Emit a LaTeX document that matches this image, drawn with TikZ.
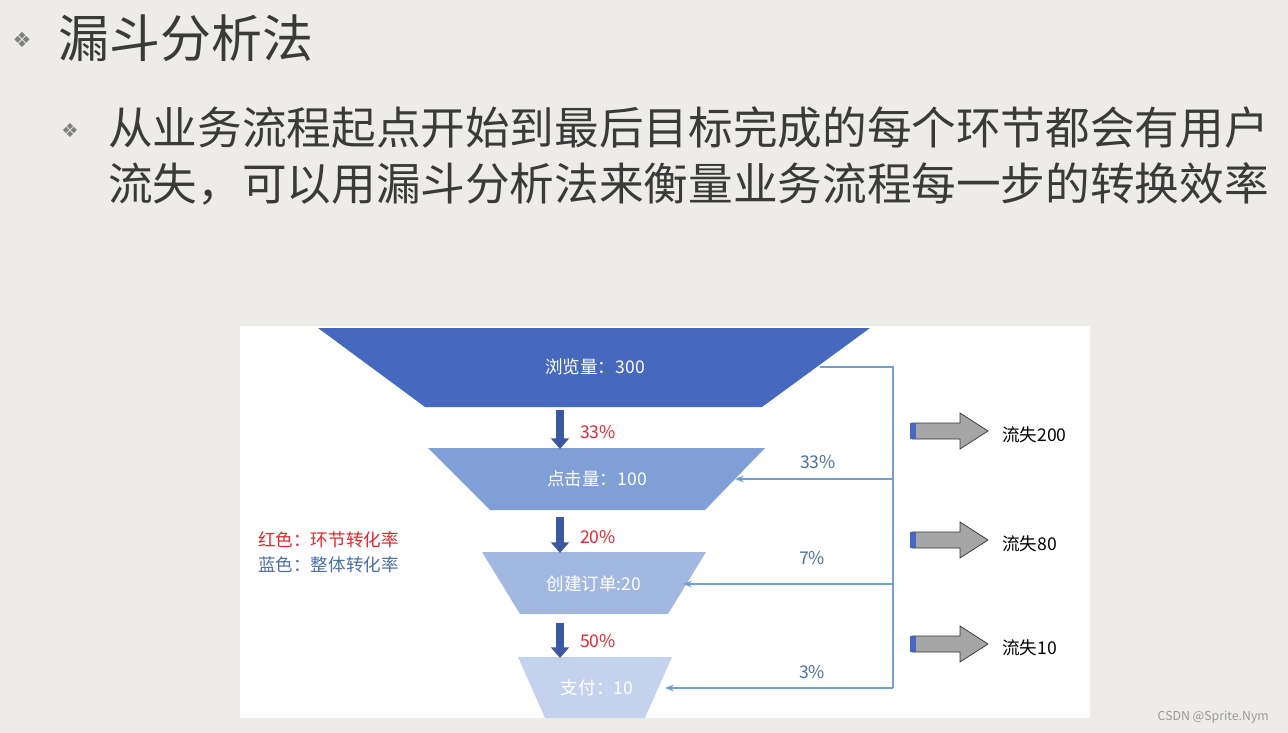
\documentclass[tikz,border=0pt]{standalone}
\usepackage{fontspec}
\setmainfont{Noto Sans CJK SC}
\newfontfamily\cjk{Noto Sans CJK SC}
\newfontfamily\dv{DejaVu Sans}
\usetikzlibrary{arrows.meta}
\definecolor{bg}{HTML}{EEECE8}
\definecolor{f1}{HTML}{4668BE}
\definecolor{f2}{HTML}{7F9FD6}
\definecolor{f3}{HTML}{A3B8E0}
\definecolor{f4}{HTML}{C5D2EE}
\definecolor{ln}{HTML}{6FA0D0}
\definecolor{lbl}{HTML}{4A6FA5}
\definecolor{rd}{HTML}{E0282E}
\definecolor{tx}{HTML}{3A3A3A}
\tikzset{
 x=0.02cm,y=-0.02cm,
 ftext/.style={text=white,font=\fontsize{10}{12}\selectfont},
 pct/.style={text=rd,font=\fontsize{10}{12}\selectfont,anchor=west},
 rpct/.style={text=lbl,font=\fontsize{10}{12}\selectfont},
 loss/.style={font=\fontsize{10}{12}\selectfont,anchor=west},
 down/.style={-{Triangle[width=10pt,length=6pt]},line width=5pt,draw=f1!85!black},
 back/.style={draw=ln,line width=0.7pt,-{Stealth[length=5pt]}},
 garrow/.style={fill=gray!70,draw=gray!40!black,line width=0.4pt},
 body/.style={anchor=west,text=tx,font=\fontsize{25.4}{30}\selectfont,inner sep=0pt},
}
\begin{document}
\begin{tikzpicture}
\fill[bg] (0,0) rectangle (1288,733);
\useasboundingbox (0,0) rectangle (1288,733);
% title
\node[text=gray] (b1) at (22,40) {\dv\fontsize{12}{14}\selectfont ❖};
\node[anchor=west,text=tx,font=\fontsize{29}{34}\selectfont,inner sep=0pt] (t1) at (58,38) {漏斗分析法};
\node[text=gray] (b2) at (70,130) {\dv\fontsize{11}{13}\selectfont ❖};
\node[body] (t2) at (108,128) {从业务流程起点开始到最后目标完成的每个环节都会有用户};
\node[body] (t3) at (108,184) {流失，可以用漏斗分析法来衡量业务流程每一步的转换效率};
% panel
\fill[white] (240,326) rectangle (1090,718);
% funnels
\fill[f1] (318,328) -- (870,328) -- (762,407) -- (425,407) -- cycle;
\fill[f2] (428,448) -- (765,448) -- (705,510) -- (490,510) -- cycle;
\fill[f3] (482,552) -- (706,552) -- (668,614) -- (520,614) -- cycle;
\fill[f4] (518,657) -- (672,657) -- (645,718) -- (545,718) -- cycle;
\node[ftext] (n1) at (595,367) {浏览量：300};
\node[ftext] (n2) at (597,479) {点击量：100};
\node[ftext] (n3) at (594,584) {创建订单:20};
\node[ftext] (n4) at (597,688) {支付：10};
% down arrows
\coordinate (d1a) at (560,410); \coordinate (d1b) at (560,449);
\coordinate (d2a) at (560,517); \coordinate (d2b) at (560,553);
\coordinate (d3a) at (560,623); \coordinate (d3b) at (560,658);
\draw[down] (d1a) -- (d1b); \draw[down] (d2a) -- (d2b); \draw[down] (d3a) -- (d3b);
\node[pct] (p1) at (574,432) {33\%};
\node[pct] (p2) at (574,537) {20\%};
\node[pct] (p3) at (574,641) {50\%};
% right connectors
\coordinate (r0) at (820,367); \coordinate (rc) at (893,367);
\coordinate (r1) at (893,479); \coordinate (r2) at (893,584); \coordinate (r3) at (893,688);
\coordinate (e1) at (735,479); \coordinate (e2) at (683,584); \coordinate (e3) at (665,688);
\draw[draw=ln,line width=0.7pt] (r0) -- (rc) -- (r3);
\draw[back] (r1) -- (e1); \draw[back] (r2) -- (e2); \draw[back] (r3) -- (e3);
\node[rpct] (q1) at (818,462) {33\%};
\node[rpct] (q2) at (812,558) {7\%};
\node[rpct] (q3) at (812,672) {3\%};
% loss arrows
\foreach \y/\t [count=\i] in {431/流失200,540/流失80,644/流失10}{
  \draw[garrow] (912,\y-8) -- (960,\y-8) -- (960,\y-18) -- (988,\y) -- (960,\y+18) -- (960,\y+8) -- (912,\y+8) -- cycle;
  \fill[f1] (910,\y-8) rectangle (916,\y+8);
  \node[loss] (l\i) at (996,\y+4) {\t};
}
% legend
\node[anchor=west,text=rd,font=\fontsize{10}{12}\selectfont] (g1) at (252,540) {红色：环节转化率};
\node[anchor=west,text=lbl,font=\fontsize{10}{12}\selectfont] (g2) at (252,565) {蓝色：整体转化率};
% watermark
\node[anchor=east,text=gray!80,font=\fontsize{7}{8}\selectfont] (wm) at (1275,717) {CSDN @Sprite.Nym};
\end{tikzpicture}
\end{document}
